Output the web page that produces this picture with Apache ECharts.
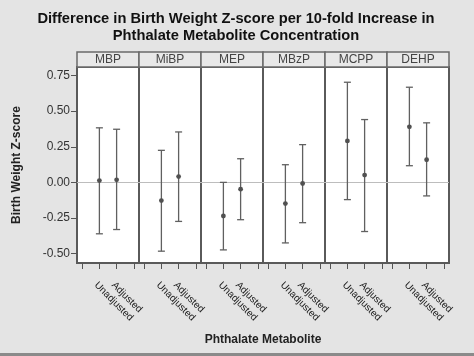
<!DOCTYPE html>
<html>
<head>
<meta charset="utf-8">
<script src="https://cdn.jsdelivr.net/npm/echarts@6/dist/echarts.min.js"></script>
<style>html,body{margin:0;padding:0;background:#e4e4e4;}#c{width:474px;height:356px;}</style>
</head>
<body>
<div id="c"></div>
<script>
var metabolites = ['MBP', 'MiBP', 'MEP', 'MBzP', 'MCPP', 'DEHP'];
var models = ['Unadjusted', 'Adjusted'];
// estimates, lower and upper CI for each metabolite
var unadjEst   = [0.013, -0.128, -0.236, -0.149, 0.291, 0.390];
var unadjLower = [-0.361, -0.483, -0.474, -0.425, -0.121, 0.117];
var unadjUpper = [0.383, 0.225, 0.000, 0.124, 0.703, 0.668];
var adjEst     = [0.018, 0.041, -0.048, -0.008, 0.051, 0.159];
var adjLower   = [-0.331, -0.274, -0.262, -0.283, -0.345, -0.095];
var adjUpper   = [0.373, 0.354, 0.166, 0.265, 0.441, 0.418];
var yTicks = [-0.5, -0.25, 0, 0.25, 0.5, 0.75];

var chart = echarts.init(document.getElementById('c'), null, {renderer: 'canvas'});
var plotLeft = 77, panelW = 62.0, plotTop = 67, plotBottom = 263;
var grids = [], xAxes = [], yAxes = [], series = [], graphics = [];
var font = 'Liberation Sans, Arial, sans-serif';

metabolites.forEach(function (m, i) {
  var left = plotLeft + i * panelW;
  grids.push({left: left, top: plotTop, width: panelW, height: plotBottom - plotTop,
    show: true, borderColor: '#5a5a5a', borderWidth: 2, backgroundColor: '#ffffff'});
  xAxes.push({type: 'value', gridIndex: i, min: 0.7, max: 4.3, position: 'bottom',
    axisLine: {show: false, onZero: false}, splitLine: {show: false},
    axisTick: {show: true, customValues: [1, 2, 3, 4], length: 6, lineStyle: {color: '#555', width: 1}},
    axisLabel: {show: true, customValues: [2, 3], rotate: -45, margin: 17,
      align: 'left', verticalAlign: 'top',
      fontFamily: font, fontSize: 10, color: '#222',
      formatter: function (v) { return v === 2 ? models[0] : (v === 3 ? models[1] : ''); }}
  });
  yAxes.push({type: 'value', gridIndex: i, min: -0.566, max: 0.81,
    axisLine: {show: false, onZero: false}, splitLine: {show: false},
    axisTick: {show: i === 0, customValues: yTicks, length: 6, lineStyle: {color: '#555'}},
    axisLabel: {show: i === 0, customValues: yTicks, fontFamily: font, fontSize: 12, color: '#333', margin: 7,
      formatter: function (v) { return v.toFixed(2); }},
    name: i === 0 ? 'Birth Weight Z-score' : '', nameLocation: 'middle', nameGap: 54,
    nameTextStyle: {fontFamily: font, fontSize: 12, fontWeight: 'bold', color: '#222'}
  });
  var data = [
    [2, unadjLower[i], unadjUpper[i], unadjEst[i]],
    [3, adjLower[i], adjUpper[i], adjEst[i]]
  ];
  series.push({
    type: 'custom', xAxisIndex: i, yAxisIndex: i, data: data, silent: true,
    encode: {x: 0, y: [1, 2, 3]},
    renderItem: function (params, api) {
      var x = api.value(0);
      var lo = api.coord([x, api.value(1)]);
      var hi = api.coord([x, api.value(2)]);
      var pt = api.coord([x, api.value(3)]);
      var cap = 3.5;
      var st = {stroke: '#606060', lineWidth: 1.3};
      return {type: 'group', children: [
        {type: 'line', shape: {x1: lo[0], y1: lo[1], x2: hi[0], y2: hi[1]}, style: st},
        {type: 'line', shape: {x1: lo[0] - cap, y1: lo[1], x2: lo[0] + cap, y2: lo[1]}, style: st},
        {type: 'line', shape: {x1: hi[0] - cap, y1: hi[1], x2: hi[0] + cap, y2: hi[1]}, style: st},
        {type: 'circle', shape: {cx: pt[0], cy: pt[1], r: 2.4}, style: {fill: '#505050'}}
      ]};
    },
    markLine: {silent: true, symbol: 'none', label: {show: false},
      lineStyle: {color: '#bdbdbd', type: 'solid', width: 1},
      data: [{yAxis: 0}], z: 1}
  });
  // strip header
  graphics.push({type: 'rect', shape: {x: left, y: 52, width: panelW, height: plotTop - 52},
    style: {fill: '#e8e8e8', stroke: '#6a6a6a', lineWidth: 1.5}, z: 10});
  graphics.push({type: 'text', x: left + panelW / 2, y: 52 + (plotTop - 52) / 2,
    style: {text: m, fill: '#444', font: '12px ' + font, textAlign: 'center', textVerticalAlign: 'middle'}, z: 11});
});

graphics.push({type: 'rect', shape: {x: 0, y: 353, width: 474, height: 3}, style: {fill: '#8a8a8a'}, z: 0});

chart.setOption({
  backgroundColor: '#e4e4e4',
  animation: false,
  title: [{
    text: 'Difference in Birth Weight Z-score per 10-fold Increase in\nPhthalate Metabolite Concentration',
    left: 236, top: 10, textAlign: 'center', padding: 0,
    textStyle: {fontFamily: font, fontSize: 14.7, fontWeight: 'bold', color: '#111', lineHeight: 17}
  }, {
    text: 'Phthalate Metabolite', left: 263, top: 334, textAlign: 'center', padding: 0,
    textStyle: {fontFamily: font, fontSize: 12, fontWeight: 'bold', color: '#222'}
  }],
  grid: grids, xAxis: xAxes, yAxis: yAxes, series: series, graphic: graphics
});
</script>
</body>
</html>
